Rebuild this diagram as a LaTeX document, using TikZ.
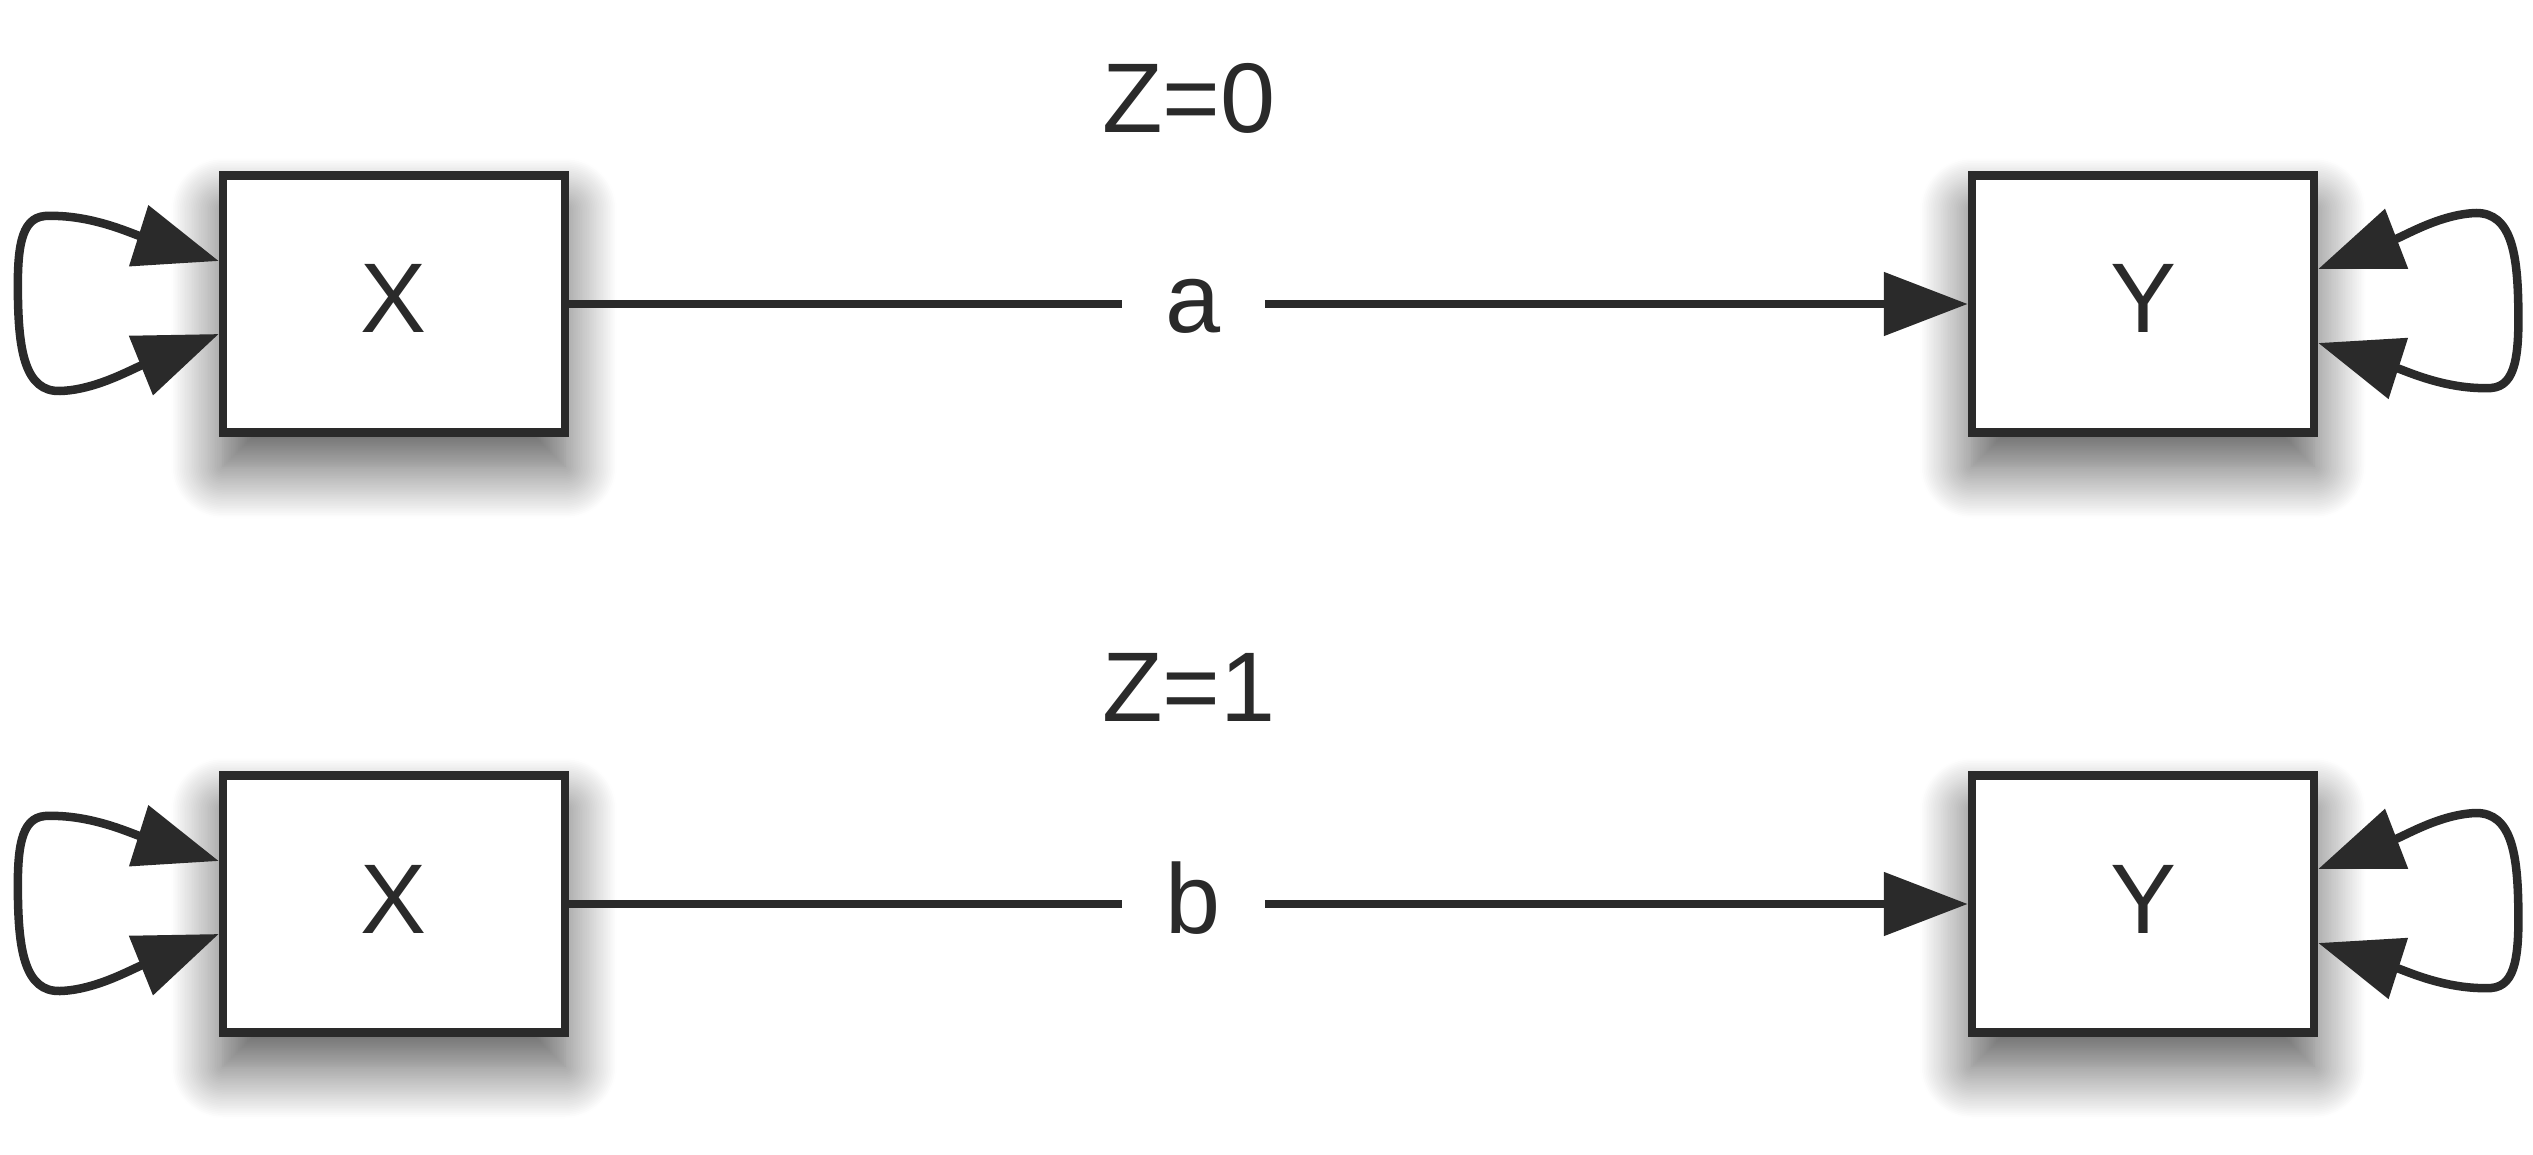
\documentclass[tikz,border=0pt]{standalone}
\usepackage{fontspec}
\usepackage{graphicx}
\setmainfont{Liberation Sans}
\usetikzlibrary{arrows.meta,shadows.blur,calc}
\definecolor{ink}{RGB}{42,42,42}
\newcommand{\bigtxt}[1]{\scalebox{4}{\fontsize{12.375}{14}\selectfont #1}}
\begin{document}
\begin{tikzpicture}[x=0.5pt,y=-0.5pt,
  txt/.style={text=ink, text height=39pt, text depth=10pt, inner sep=0pt},
  box/.style={txt, draw=ink, line width=4.25pt, fill=white, minimum width=171pt, minimum height=128.5pt,
    blur shadow={shadow xshift=0pt, shadow yshift=-17pt, shadow blur radius=26pt, shadow opacity=68, shadow blur steps=30}},
  elabel/.style={txt, minimum width=71.5pt, outer sep=0pt},
  conn/.style={draw=ink, line width=4.25pt},
  arr/.style={conn, -{Triangle[length=42pt,width=31pt]}},
  loopar/.style={conn, {Triangle[length=42pt,width=31pt]}-{Triangle[length=42pt,width=31pt]}},
]
\useasboundingbox (0,0) rectangle (2533,1155);

% row 1
\node[txt] (z0) at (1189,104) {\bigtxt{Z=0}};
\node[box] (X1) at (394,304) {\bigtxt{X}};
\node[box] (Y1) at (2143,304) {\bigtxt{Y}};
\node[elabel] (a) at (1193.5,304) {\bigtxt{a}};
\draw[conn] (X1) -- (a);
\draw[arr] (a) -- (Y1);
\draw[loopar, shift={(X1.west)}] (0,-43) .. controls (-88.75,-71) and (-128.75,-90) .. (-173.75,-88)
  .. controls (-198.75,-86) and (-201.75,-54) .. (-200.75,-4)
  .. controls (-199.75,46) and (-193.75,88) .. (-158.75,87)
  .. controls (-123.75,86) and (-88.75,66) .. (0,30);
\draw[loopar, shift={(Y1.east)}] (0,39) .. controls (88,67) and (128,86) .. (173,84)
  .. controls (198,82) and (201,50) .. (200,0)
  .. controls (199,-50) and (193,-91) .. (158,-91)
  .. controls (123,-90) and (88,-69) .. (0,-35);

% row 2
\node[txt] (z1) at (1189,692) {\bigtxt{Z=1}};
\node[box] (X2) at (394,904) {\bigtxt{X}};
\node[box] (Y2) at (2143,904) {\bigtxt{Y}};
\node[elabel] (b) at (1193.5,904) {\bigtxt{b}};
\draw[conn] (X2) -- (b);
\draw[arr] (b) -- (Y2);
\draw[loopar, shift={(X2.west)}] (0,-43) .. controls (-88.75,-71) and (-128.75,-90) .. (-173.75,-88)
  .. controls (-198.75,-86) and (-201.75,-54) .. (-200.75,-4)
  .. controls (-199.75,46) and (-193.75,88) .. (-158.75,87)
  .. controls (-123.75,86) and (-88.75,66) .. (0,30);
\draw[loopar, shift={(Y2.east)}] (0,39) .. controls (88,67) and (128,86) .. (173,84)
  .. controls (198,82) and (201,50) .. (200,0)
  .. controls (199,-50) and (193,-91) .. (158,-91)
  .. controls (123,-90) and (88,-69) .. (0,-35);
\end{tikzpicture}
\end{document}
